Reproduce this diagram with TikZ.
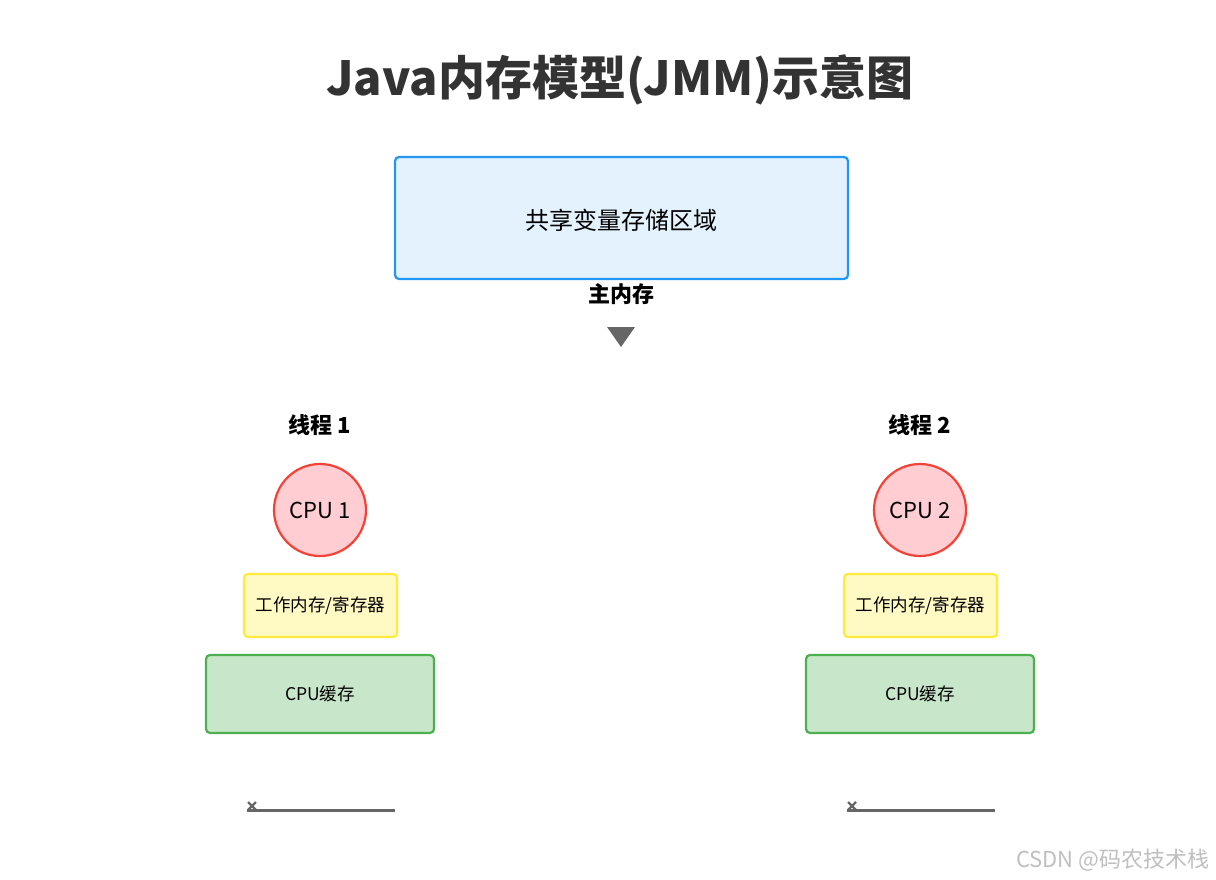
\documentclass[tikz,border=0pt]{standalone}
\usepackage{fontspec}
\setmainfont{Noto Sans CJK SC}
\begin{document}
\begin{tikzpicture}[x=1pt,y=-1pt,
 fs/.style={font=\fontsize{#1}{#1}\selectfont},
 rbox/.style={draw,rounded corners=4pt,line width=2.2pt,inner sep=0pt}]
\useasboundingbox (0,0) rectangle (1216,880);
\definecolor{bluef}{HTML}{E3F2FD}\definecolor{blues}{HTML}{2196F3}
\definecolor{redf}{HTML}{FFCDD2}\definecolor{reds}{HTML}{F44336}
\definecolor{yelf}{HTML}{FFF9C4}\definecolor{yels}{HTML}{FFEB3B}
\definecolor{grnf}{HTML}{C8E6C9}\definecolor{grns}{HTML}{4CAF50}
\definecolor{gr}{HTML}{666666}\definecolor{tx}{HTML}{333333}
\node[font=\bfseries\fontsize{47}{47}\selectfont,text=tx] (title) at (620,80) {Java内存模型(JMM)示意图};
\node[rbox,draw=blues,fill=bluef,minimum width=453pt,minimum height=122pt] (mem) at (621.5,218) {};
\node[fs=24] (memt) at (621,220) {共享变量存储区域};
\node[font=\bfseries\fontsize{22}{22}\selectfont] (meml) at (621,294) {主内存};
\fill[gr] (607,327) -- (635,327) -- (621,347) -- cycle;
\foreach \i/\dx in {1/0,2/600}{
 \begin{scope}[xshift=\dx]
 \node[font=\bfseries\fontsize{22}{22}\selectfont] (th\i) at (320,425) {线程 \i};
 \node[circle,draw=reds,fill=redf,line width=2.2pt,minimum size=92pt,inner sep=0pt,fs=22] (cpu\i) at (320,510) {CPU \i};
 \node[rbox,draw=yels,fill=yelf,minimum width=153pt,minimum height=63pt,fs=17.5] (wm\i) at (320.5,605.5) {工作内存/寄存器};
 \node[rbox,draw=grns,fill=grnf,minimum width=228pt,minimum height=78pt,fs=17.5] (cc\i) at (320,694) {CPU缓存};
 \coordinate (a\i) at (247,810); \coordinate (b\i) at (395,810);
 \draw[gr,line width=3pt] (a\i) -- (b\i);
 \draw[gr,line width=2.2pt] (248,802) -- (256,810) (256,802) -- (248,810);
 \end{scope}}
\node[fs=22,text=black!25,anchor=east] (wmk) at (1213,860) {CSDN @码农技术栈};
\end{tikzpicture}
\end{document}
